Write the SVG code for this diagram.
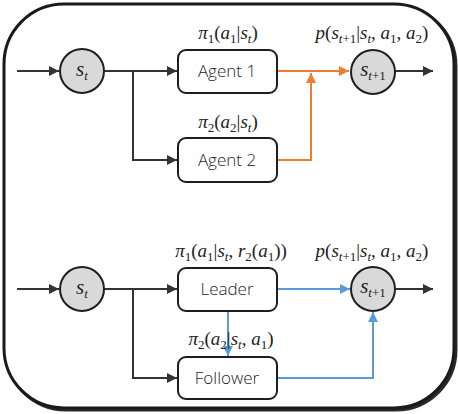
<svg xmlns="http://www.w3.org/2000/svg" width="458" height="414" viewBox="0 0 458 414">
<defs>
<style>
.frame{fill:#fff;stroke:#1a1a1a;stroke-width:3}
.shadow{fill:#2a2a2a;stroke:#2a2a2a;stroke-width:3}
.box{fill:#fff;stroke:#1e1e1e;stroke-width:2}
.circ{fill:#d9d9d9;stroke:#1e1e1e;stroke-width:2}
.lbl{font-family:"Open Sans","Noto Sans",sans-serif;font-weight:300;font-size:17px;fill:#1e1e1e;text-anchor:middle}
.m{font-family:"Liberation Serif","DejaVu Serif",serif;font-size:19px;fill:#222;text-anchor:middle}
.c{font-size:21px}
.i{font-style:italic}
.s{font-size:13px}
.k{fill:none;stroke:#333;stroke-width:2}
.o{fill:none;stroke:#ed7d31;stroke-width:2}
.b{fill:none;stroke:#5b9bd5;stroke-width:2}
</style>
<marker id="ak" viewBox="0 0 10 10" refX="10" refY="5" markerWidth="5" markerHeight="5" orient="auto"><path d="M0,0L10,5L0,10z" fill="#333"/></marker>
<marker id="ao" viewBox="0 0 10 10" refX="10" refY="5" markerWidth="5" markerHeight="5" orient="auto"><path d="M0,0L10,5L0,10z" fill="#ed7d31"/></marker>
<marker id="ab" viewBox="0 0 10 10" refX="10" refY="5" markerWidth="5" markerHeight="5" orient="auto"><path d="M0,0L10,5L0,10z" fill="#5b9bd5"/></marker>
</defs>

<g id="frame">
<rect class="shadow" x="6" y="6" width="450" height="404" rx="60"/>
<rect class="frame" x="4" y="4" width="450" height="404" rx="60"/>
</g>

<g id="connectors">
<path class="k" d="M17,71H59" marker-end="url(#ak)"/>
<path class="k" d="M104,71H177" marker-end="url(#ak)"/>
<path class="k" d="M133,71V160H177" marker-end="url(#ak)"/>
<path class="o" d="M277,71H349" marker-end="url(#ao)"/>
<path class="o" d="M277,160H311V73" marker-end="url(#ao)"/>
<path class="k" d="M395,71H433" marker-end="url(#ak)"/>

<path class="k" d="M17,289H59" marker-end="url(#ak)"/>
<path class="k" d="M104,289H177" marker-end="url(#ak)"/>
<path class="k" d="M133,289V378H177" marker-end="url(#ak)"/>
<path class="b" d="M277,289H350" marker-end="url(#ab)"/>
<path class="b" d="M277,378H373V312" marker-end="url(#ab)"/>
<path class="b" d="M228,311V356" marker-end="url(#ab)"/>
<path class="k" d="M396,289H433" marker-end="url(#ak)"/>
</g>

<g id="st1">
<circle class="circ" cx="82" cy="71" r="22"/>
<text class="m c" x="82" y="76"><tspan class="i">s</tspan><tspan class="s i" dy="4">t</tspan></text>
</g>
<g id="agent1">
<rect class="box" x="178" y="50" width="99" height="43" rx="8"/>
<text class="lbl" x="227" y="77">Agent 1</text>
<text class="m" x="228" y="39"><tspan class="i">π</tspan><tspan class="s" dy="4">1</tspan><tspan dy="-4">(</tspan><tspan class="i">a</tspan><tspan class="s" dy="4">1</tspan><tspan dy="-4">|</tspan><tspan class="i">s</tspan><tspan class="s i" dy="4">t</tspan><tspan dy="-4">)</tspan></text>
</g>
<g id="agent2">
<rect class="box" x="178" y="138" width="99" height="44" rx="8"/>
<text class="lbl" x="227" y="166">Agent 2</text>
<text class="m" x="228" y="128"><tspan class="i">π</tspan><tspan class="s" dy="4">2</tspan><tspan dy="-4">(</tspan><tspan class="i">a</tspan><tspan class="s" dy="4">2</tspan><tspan dy="-4">|</tspan><tspan class="i">s</tspan><tspan class="s i" dy="4">t</tspan><tspan dy="-4">)</tspan></text>
</g>
<g id="st1next">
<circle class="circ" cx="373" cy="72" r="22"/>
<text class="m c" x="373" y="76"><tspan class="i">s</tspan><tspan class="s i" dy="4">t</tspan><tspan class="s">+1</tspan></text>
<text class="m" x="372" y="39"><tspan class="i">p</tspan>(<tspan class="i">s</tspan><tspan class="s i" dy="4">t</tspan><tspan class="s">+1</tspan><tspan dy="-4">|</tspan><tspan class="i">s</tspan><tspan class="s i" dy="4">t</tspan><tspan dy="-4">, </tspan><tspan class="i">a</tspan><tspan class="s" dy="4">1</tspan><tspan dy="-4">, </tspan><tspan class="i">a</tspan><tspan class="s" dy="4">2</tspan><tspan dy="-4">)</tspan></text>
</g>

<g id="st2">
<circle class="circ" cx="82" cy="289" r="22"/>
<text class="m c" x="82" y="294"><tspan class="i">s</tspan><tspan class="s i" dy="4">t</tspan></text>
</g>
<g id="leader">
<rect class="box" x="178" y="268" width="99" height="43" rx="8"/>
<text class="lbl" x="227" y="295">Leader</text>
<text class="m" x="231" y="257"><tspan class="i">π</tspan><tspan class="s" dy="4">1</tspan><tspan dy="-4">(</tspan><tspan class="i">a</tspan><tspan class="s" dy="4">1</tspan><tspan dy="-4">|</tspan><tspan class="i">s</tspan><tspan class="s i" dy="4">t</tspan><tspan dy="-4">, </tspan><tspan class="i">r</tspan><tspan class="s" dy="4">2</tspan><tspan dy="-4">(</tspan><tspan class="i">a</tspan><tspan class="s" dy="4">1</tspan><tspan dy="-4">))</tspan></text>
</g>
<g id="follower">
<rect class="box" x="178" y="357" width="99" height="42" rx="8"/>
<text class="lbl" x="227" y="384">Follower</text>
<text class="m" x="231" y="345"><tspan class="i">π</tspan><tspan class="s" dy="4">2</tspan><tspan dy="-4">(</tspan><tspan class="i">a</tspan><tspan class="s" dy="4">2</tspan><tspan dy="-4">|</tspan><tspan class="i">s</tspan><tspan class="s i" dy="4">t</tspan><tspan dy="-4">, </tspan><tspan class="i">a</tspan><tspan class="s" dy="4">1</tspan><tspan dy="-4">)</tspan></text>
</g>
<g id="st2next">
<circle class="circ" cx="373" cy="289" r="22"/>
<text class="m c" x="373" y="293"><tspan class="i">s</tspan><tspan class="s i" dy="4">t</tspan><tspan class="s">+1</tspan></text>
<text class="m" x="372" y="257"><tspan class="i">p</tspan>(<tspan class="i">s</tspan><tspan class="s i" dy="4">t</tspan><tspan class="s">+1</tspan><tspan dy="-4">|</tspan><tspan class="i">s</tspan><tspan class="s i" dy="4">t</tspan><tspan dy="-4">, </tspan><tspan class="i">a</tspan><tspan class="s" dy="4">1</tspan><tspan dy="-4">, </tspan><tspan class="i">a</tspan><tspan class="s" dy="4">2</tspan><tspan dy="-4">)</tspan></text>
</g>
</svg>
